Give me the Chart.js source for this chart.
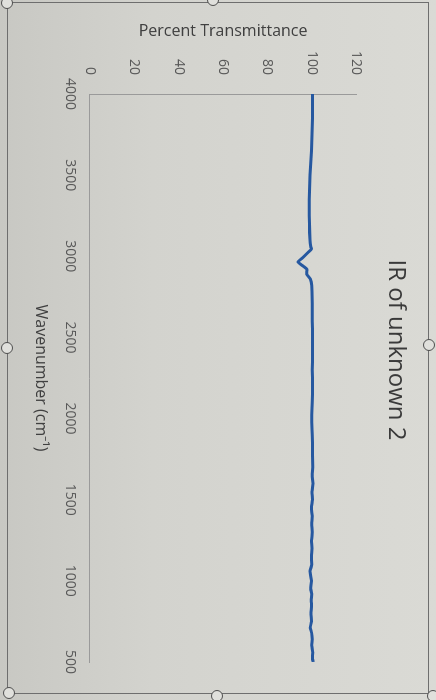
<!DOCTYPE html>
<html>
<head>
<meta charset="utf-8">
<title>IR of unknown 2</title>
<script src="https://cdn.jsdelivr.net/npm/chart.js@4.4.1/dist/chart.umd.min.js"></script>
<style>
  html, body { margin: 0; padding: 0; }
  body {
    width: 436px; height: 700px; overflow: hidden; position: relative;
    background: linear-gradient(90deg, #c8c8c3 0%, #d3d3ce 35%, #dadad5 100%);
    font-family: 'Open Sans', sans-serif;
  }
  #frame {
    position: absolute; left: 7px; top: 2px; width: 422px; height: 692px;
    border: 1.5px solid #6e6e6e; box-sizing: border-box;
  }
  .handle {
    position: absolute; width: 12px; height: 12px; border-radius: 50%;
    border: 1.5px solid #4e4e4e; background: #e0e0dc; box-sizing: border-box;
    transform: translate(-50%, -50%);
  }
  /* the chart is photographed turned a quarter turn clockwise */
  #wrap {
    position: absolute; left: 0; top: 0; width: 700px; height: 436px;
    transform-origin: 0 0; transform: translate(436px, 0) rotate(90deg);
  }
</style>
</head>
<body>
<div id="frame"></div>
<div class="handle" style="left:7px;top:3px"></div>
<div class="handle" style="left:213px;top:0px"></div>
<div class="handle" style="left:429px;top:345px"></div>
<div class="handle" style="left:7px;top:348px"></div>
<div class="handle" style="left:9px;top:693px"></div>
<div class="handle" style="left:217px;top:696px"></div>
<div class="handle" style="left:433px;top:696px"></div>
<div id="wrap"><canvas id="irChart" width="700" height="436"></canvas></div>
<script>
// wavenumber (cm-1) and % transmittance
const wavenumbers = [4000, 3900, 3800, 3700, 3600, 3500, 3400, 3300, 3200, 3100,
  3060, 3045, 3025, 2990, 2965, 2940, 2920, 2890, 2860, 2820,
  2700, 2600, 2500, 2400, 2300, 2200, 2100, 2000, 1900, 1800,
  1700, 1650, 1600, 1550, 1500, 1450, 1400, 1350, 1300, 1250,
  1200, 1150, 1100, 1060, 1000, 950, 920, 880, 840, 800,
  750, 710, 680, 640, 600, 560, 520, 500];
const transmittance = [100.3, 100.3, 100.2, 100.0, 99.6, 99.2, 98.9, 98.8, 98.9, 99.2,
  99.5, 99.8, 98.4, 95.8, 93.8, 96.0, 97.8, 97.7, 99.3, 100.0,
  100.2, 100.2, 100.3, 100.3, 100.2, 100.3, 100.2, 100.0, 100.2, 100.3,
  100.4, 100.2, 100.5, 100.1, 100.3, 99.8, 100.2, 100.0, 100.2, 99.9,
  100.1, 99.8, 100.0, 99.2, 99.8, 99.5, 100.0, 99.7, 99.9, 99.6,
  99.8, 99.3, 99.9, 100.2, 100.0, 100.4, 100.3, 100.6];

const xTicks = [4000, 3500, 3000, 2500, 2000, 1500, 1000, 500];
const yTicks = [0, 20, 40, 60, 80, 100, 120];

const points = wavenumbers.map((w, i) => ({ x: w, y: transmittance[i] }));

const tickFont = { family: 'Open Sans', size: 14 };
const axisColor = '#9a9a9a';

new Chart(document.getElementById('irChart').getContext('2d'), {
  type: 'line',
  data: {
    datasets: [{
      label: 'IR of unknown 2',
      data: points,
      borderColor: 'rgb(38, 88, 160)',
      borderWidth: 3,
      pointRadius: 0,
      tension: 0.2,
      fill: false
    }]
  },
  options: {
    responsive: false,
    animation: false,
    layout: { padding: 0 },
    plugins: {
      legend: { display: false },
      tooltip: { enabled: false },
      title: {
        display: true,
        text: 'IR of unknown 2',
        color: '#3a3a3a',
        font: { family: 'Open Sans', size: 24, weight: 'normal' },
        padding: { top: 26, bottom: 25 }
      }
    },
    scales: {
      x: {
        type: 'linear',
        reverse: true,
        min: xTicks[xTicks.length - 1],
        max: xTicks[0],
        afterBuildTicks: s => { s.ticks = xTicks.map(v => ({ value: v })); },
        afterFit: s => { s.height = 90; },
        grid: { display: false, drawTicks: false },
        border: { display: true, color: axisColor, width: 1 },
        ticks: {
          color: '#595959', font: tickFont, padding: 12, maxRotation: 0,
          callback: v => String(v)
        },
        title: {
          display: true,
          text: 'Wavenumber (cm⁻¹)',
          color: '#404040',
          font: { family: 'Open Sans', size: 16 },
          padding: { top: 0, bottom: 31 }
        }
      },
      y: {
        min: yTicks[0],
        max: yTicks[yTicks.length - 1],
        afterBuildTicks: s => { s.ticks = yTicks.map(v => ({ value: v })); },
        afterFit: s => { s.width = 94; },
        grid: { display: false, drawTicks: false },
        border: { display: true, color: axisColor, width: 1 },
        ticks: { color: '#595959', font: tickFont, padding: 19, callback: v => String(v) },
        title: {
          display: true,
          text: 'Percent Transmittance',
          color: '#404040',
          font: { family: 'Open Sans', size: 16 },
          padding: { top: 22, bottom: 0 }
        }
      },
      // empty right-hand box so the title centres on the whole chart like Excel
      yRight: {
        position: 'right',
        afterFit: s => { s.width = 38; },
        grid: { display: false },
        border: { display: false },
        ticks: { display: false }
      }
    }
  }
});
</script>
</body>
</html>
